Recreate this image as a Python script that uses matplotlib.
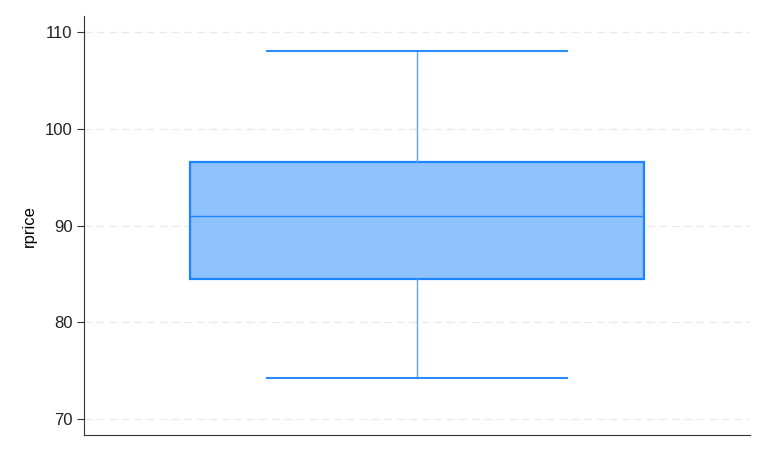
import matplotlib.pyplot as plt

# box statistics
variable = "rprice"
median = 90.96
q1 = 84.48
q3 = 96.57
whisker_low = 74.26
whisker_high = 108.04
y_ticks = [70, 80, 90, 100, 110]

plt.rcParams['font.family'] = ['Liberation Sans', 'DejaVu Sans']

fig = plt.figure(figsize=(7.68, 4.61), dpi=100)
ax = fig.add_axes([0.109, 0.056, 0.868, 0.909])

stats = [{
    'med': median, 'q1': q1, 'q3': q3,
    'whislo': whisker_low, 'whishi': whisker_high,
    'fliers': [], 'label': '',
}]

ax.bxp(stats, positions=[1], widths=0.68, showfliers=False,
       patch_artist=True,
       boxprops=dict(facecolor='#8fc1fd', edgecolor='#1a85ff', linewidth=1.6),
       medianprops=dict(color='#1a85ff', linewidth=1.0),
       whiskerprops=dict(color='#5aa3ff', linewidth=1.0),
       capprops=dict(color='#2b8cff', linewidth=1.5),
       capwidths=0.45)

ax.set_xlim(0.5, 1.5)
ax.set_ylim(68.35, 111.65)
ax.set_yticks(y_ticks)
ax.set_xticks([])
ax.set_ylabel(variable, fontsize=12, labelpad=6)

ax.yaxis.grid(True, linestyle=(0, (6, 4)), color='#e8e8e8', linewidth=0.9)
ax.set_axisbelow(True)

for side in ['top', 'right']:
    ax.spines[side].set_visible(False)
ax.spines['left'].set_color('#333333')
ax.spines['bottom'].set_color('#333333')
ax.tick_params(axis='y', length=5, width=0.8, color='#333333', labelsize=12,
               labelcolor='#222222', pad=3)

fig.savefig('out.png', dpi=100)
